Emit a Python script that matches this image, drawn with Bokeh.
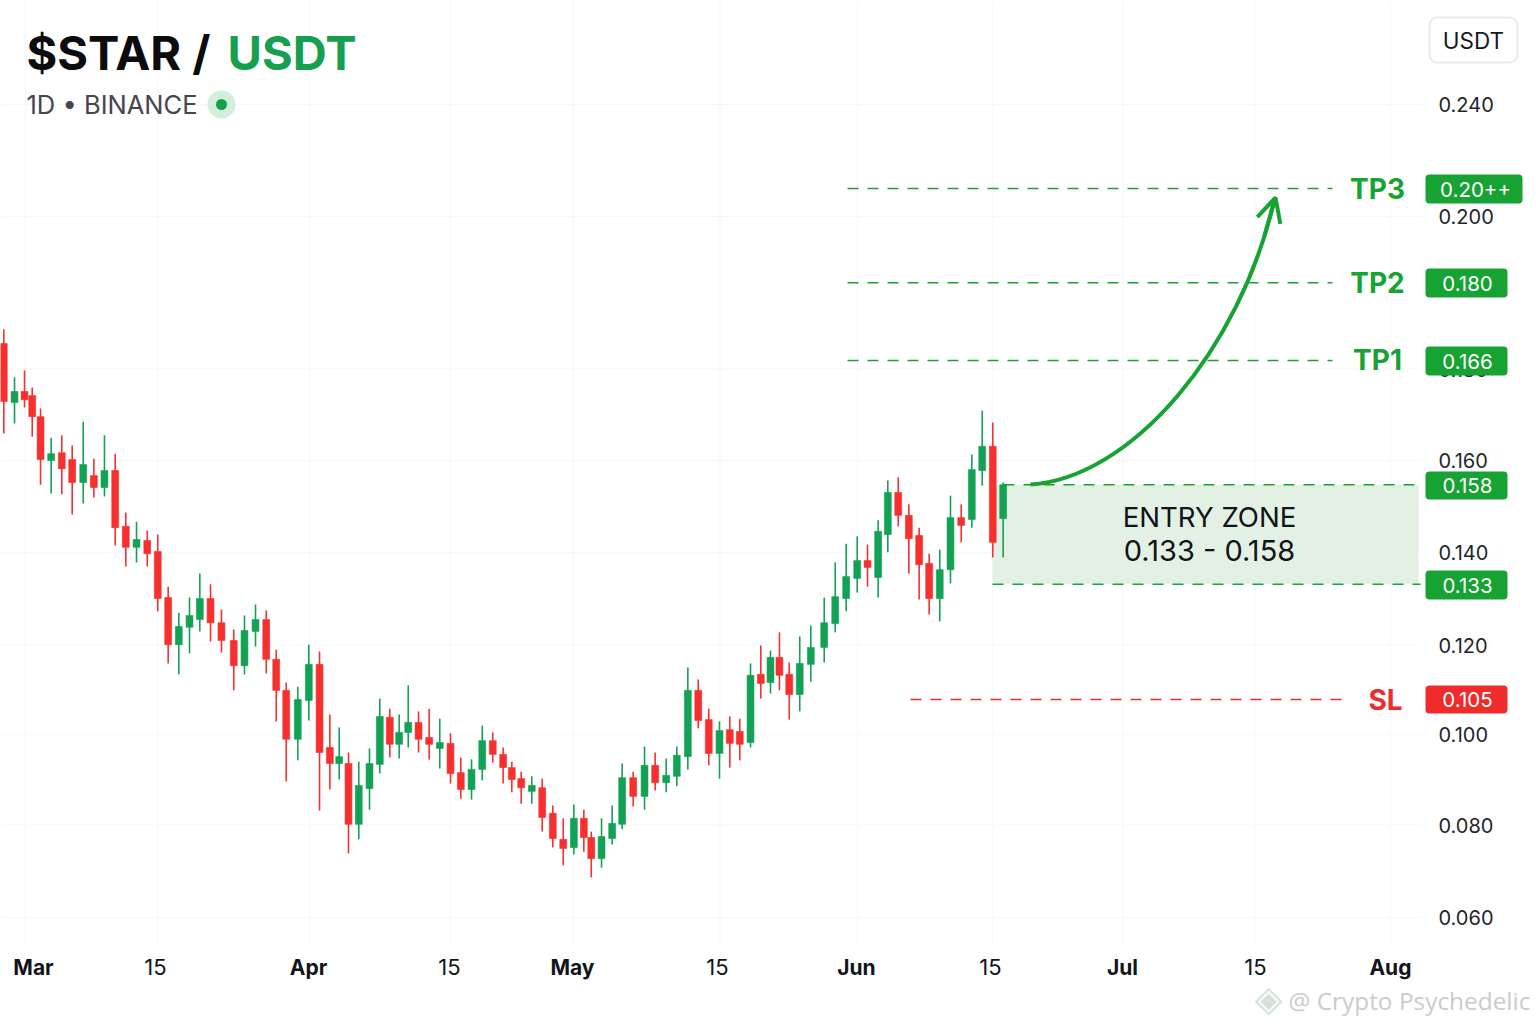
from bokeh.plotting import figure
from bokeh.models import ColumnDataSource, FixedTicker, LinearAxis, Range1d, Arrow, OpenHead
from bokeh.core.properties import value
from bokeh.embed import file_html
from bokeh.resources import INLINE

# ---- candle data; the picture's candles are not perfectly evenly spaced ----
session = [0,1.03,1.99,2.73,3.53,4.55,5.57,6.57,7.63,8.65,9.67,10.70,11.72,12.75,13.78,14.79,15.79,16.81,17.84,18.83,19.86,20.91,22.09,23.12,24.18,
           25.21,26.17,27.13,28.24,29.30,30.33,31.32,32.22,33.11,34.10,35.13,36.12,37.08,37.98,38.85,39.84,40.86,41.88,42.91,43.90,44.93,45.96,46.97,47.97,
           48.80,49.70,50.72,51.72,52.74,53.74,54.76,55.72,56.43,57.42,58.44,59.40,60.46,61.55,62.57,63.63,64.65,65.71,66.71,67.72,68.75,69.74,70.70,71.73,
           72.72,73.65,74.51,75.45,76.46,77.52,78.81,79.87,80.92,81.98,82.97,83.99,84.92,85.92,86.94,87.93,88.89,89.91,90.94,91.97,92.99,93.99,95.00,96.00]
high = [0.1887,0.1782,0.1797,0.1760,0.1714,0.1650,0.1655,0.1633,0.1685,0.1604,0.1655,0.1615,0.1486,0.1466,0.1447,0.1438,0.1324,0.1267,0.1300,0.1353,0.1329,0.1274,0.1230,0.1261,0.1285,0.1272,0.1186,0.1114,0.1105,0.1197,0.1182,0.1044,0.1016,0.0961,0.0941,0.0970,0.1079,0.1057,0.1044,0.1108,0.1051,0.1057,0.1035,0.1003,0.0950,0.0946,0.1020,0.1005,0.0972,0.0941,0.0919,0.0909,0.0904,0.0845,0.0817,0.0847,0.0836,0.0788,0.0817,0.0845,0.0937,0.0919,0.0974,0.0961,0.0948,0.0974,0.1147,0.1121,0.1057,0.1029,0.1040,0.1035,0.1156,0.1195,0.1184,0.1224,0.1158,0.1215,0.1239,0.1300,0.1377,0.1418,0.1434,0.1416,0.1469,0.1556,0.1563,0.1504,0.1453,0.1396,0.1405,0.1523,0.1504,0.1613,0.1709,0.1683,0.1552]
open_ = [0.1856,0.1727,0.1751,0.1742,0.1696,0.1600,0.1617,0.1602,0.1552,0.1567,0.1541,0.1578,0.1456,0.1410,0.1425,0.1401,0.1300,0.1197,0.1235,0.1252,0.1298,0.1245,0.1206,0.1151,0.1226,0.1252,0.1165,0.1097,0.0990,0.1075,0.1154,0.0972,0.0937,0.0937,0.0804,0.0882,0.0935,0.1038,0.0979,0.1005,0.1027,0.0994,0.0970,0.0981,0.0917,0.0880,0.0924,0.0987,0.0957,0.0928,0.0904,0.0876,0.0884,0.0828,0.0771,0.0753,0.0817,0.0775,0.0729,0.0773,0.0804,0.0906,0.0865,0.0933,0.0895,0.0909,0.0952,0.1097,0.1033,0.0959,0.1011,0.1007,0.0983,0.1132,0.1114,0.1169,0.1132,0.1088,0.1154,0.1191,0.1243,0.1298,0.1342,0.1381,0.1344,0.1438,0.1530,0.1480,0.1436,0.1375,0.1298,0.1361,0.1475,0.1471,0.1578,0.1631,0.1473]
close = [0.1729,0.1751,0.1733,0.1696,0.1602,0.1615,0.1582,0.1552,0.1591,0.1541,0.1578,0.1453,0.1410,0.1427,0.1396,0.1298,0.1197,0.1237,0.1261,0.1298,0.1245,0.1206,0.1151,0.1228,0.1252,0.1165,0.1097,0.0990,0.1077,0.1154,0.0961,0.0937,0.0952,0.0804,0.0889,0.0937,0.1040,0.0979,0.1005,0.1027,0.0990,0.0979,0.0983,0.0915,0.0880,0.0924,0.0987,0.0957,0.0928,0.0902,0.0884,0.0889,0.0819,0.0773,0.0751,0.0817,0.0775,0.0729,0.0777,0.0806,0.0906,0.0865,0.0933,0.0895,0.0911,0.0955,0.1097,0.1031,0.0959,0.1009,0.0981,0.0979,0.1130,0.1112,0.1169,0.1130,0.1088,0.1156,0.1191,0.1245,0.1302,0.1346,0.1381,0.1366,0.1445,0.1530,0.1480,0.1429,0.1372,0.1298,0.1361,0.1475,0.1458,0.1580,0.1631,0.1421,0.1547]
low = [0.1659,0.1681,0.1716,0.1652,0.1547,0.1528,0.1526,0.1482,0.1506,0.1519,0.1521,0.1414,0.1368,0.1377,0.1368,0.1270,0.1156,0.1132,0.1178,0.1226,0.1204,0.1180,0.1097,0.1132,0.1193,0.1134,0.1029,0.0898,0.0944,0.1031,0.0834,0.0880,0.0902,0.0740,0.0771,0.0836,0.0915,0.0950,0.0948,0.0972,0.0961,0.0946,0.0926,0.0893,0.0860,0.0858,0.0900,0.0939,0.0893,0.0874,0.0849,0.0849,0.0788,0.0753,0.0714,0.0738,0.0744,0.0688,0.0709,0.0760,0.0793,0.0843,0.0836,0.0878,0.0874,0.0887,0.0924,0.1014,0.0933,0.0904,0.0928,0.0944,0.0972,0.1079,0.1090,0.1097,0.1033,0.1051,0.1116,0.1158,0.1224,0.1270,0.1311,0.1324,0.1300,0.1399,0.1456,0.1353,0.1296,0.1263,0.1248,0.1331,0.1421,0.1453,0.1545,0.1388,0.1388]

# ---- axes ----
month_labels = ["Mar", "Apr", "May", "Jun", "Jul", "Aug"]
month_pos = [2.85, 29.27, 54.63, 81.91, 107.46, 133.2]
mid_labels = ["15", "15", "15", "15", "15"]
mid_pos = [14.57, 42.81, 68.56, 94.78, 120.24]
vgrid_pos = [2.07, 14.8, 29.4, 42.9, 54.7, 68.8, 82.0, 95.0, 107.5, 120.2, 133.2]
price_labels = ["0.060", "0.080", "0.100", "0.120", "0.140", "0.160", "0.180", "0.200", "0.240"]
price_pos = [0.06, 0.0802, 0.10, 0.1196, 0.1398, 0.16, 0.18, 0.2134, 0.2379]

# ---- levels ----
level_names = ["TP3", "TP2", "TP1", "SL"]
level_pos = [0.2195, 0.1989, 0.1819, 0.1077]
level_labels = ["0.20++", "0.180", "0.166", "0.105"]
entry_labels = ["0.158", "0.133"]
entry_pos = [0.1547, 0.1329]

GREEN = "#12a155"
RED = "#f5302e"
LEVEL = "#16a334"
LRED = "#f02b2b"


def X(px):
    return (px - 3.3) / 10.41


def Y(py):
    return 0.06 + (917 - py) / 4570


p = figure(width=1536, height=1024, output_backend="svg", toolbar_location=None,
           x_range=Range1d(X(0), X(1536)), y_range=Range1d(Y(1024), Y(0)),
           x_axis_location=None, y_axis_location=None,
           min_border_left=0, min_border_top=0, min_border_right=0, min_border_bottom=0,
           outline_line_color=None, background_fill_color="#ffffff", border_fill_color="#ffffff")
p.grid.visible = False

# grid
p.segment(x0=vgrid_pos, y0=[Y(0)] * len(vgrid_pos), x1=vgrid_pos, y1=[Y(945)] * len(vgrid_pos),
          line_color="#f6f7f7", line_width=1, level="underlay")
p.segment(x0=[X(0)] * len(price_pos), y0=price_pos, x1=[X(1420)] * len(price_pos), y1=price_pos,
          line_color="#f6f7f7", line_width=1, level="underlay")


# axes
def style(ax, size, bold=False, standoff=12):
    ax.axis_line_color = None
    ax.major_tick_line_color = None
    ax.minor_tick_line_color = None
    ax.major_tick_in = 0
    ax.major_tick_out = 0
    ax.major_label_text_font = "Inter"
    ax.major_label_text_font_size = f"{size}px"
    ax.major_label_text_color = "#111418"
    ax.major_label_standoff = standoff
    if bold:
        ax.major_label_text_font_style = "bold"


yax = LinearAxis(ticker=FixedTicker(ticks=price_pos),
                 major_label_overrides=dict(zip(price_pos, price_labels)))
style(yax, 20, standoff=-98)
yax.major_label_text_color = "#22262a"
p.add_layout(yax, "right")

ax_m = LinearAxis(ticker=FixedTicker(ticks=month_pos),
                  major_label_overrides=dict(zip(month_pos, month_labels)))
style(ax_m, 21, bold=True, standoff=-70)
p.add_layout(ax_m, "below")
ax_d = LinearAxis(ticker=FixedTicker(ticks=mid_pos),
                  major_label_overrides=dict(zip(mid_pos, mid_labels)))
style(ax_d, 22, standoff=-66)
p.add_layout(ax_d, "below")

# entry zone
p.quad(left=[X(992)], right=[X(1418)], top=[entry_pos[0]], bottom=[entry_pos[1]],
       fill_color="#e2f1e4", line_color=None)

# candles
idx = list(range(len(high)))
colors = [GREEN if close[i] >= open_[i] else RED for i in idx]
src = ColumnDataSource(dict(x=session, high=high, low=low,
                            top=[max(open_[i], close[i]) for i in idx],
                            bottom=[min(open_[i], close[i]) for i in idx],
                            color=colors))
p.segment("x", "high", "x", "low", source=src, line_color="color", line_width=1.6)
p.vbar("x", 0.66, "top", "bottom", source=src, fill_color="color", line_color="color", line_width=0.6)

# level lines
DASH = "11 9"
for y, x0, x1, c in [(level_pos[0], 847, 1332, LEVEL), (level_pos[1], 847, 1332, LEVEL),
                     (level_pos[2], 847, 1332, LEVEL), (level_pos[3], 910, 1350, LRED),
                     (entry_pos[0], 1003, 1418, LEVEL), (entry_pos[1], 992, 1420, LEVEL)]:
    p.line([X(x0), X(x1)], [y, y], line_color=c, line_width=1.5, line_dash=DASH)

# curved arrow
p.bezier(x0=[X(1030)], y0=[Y(484)], x1=[X(1274)], y1=[Y(198)],
         cx0=[X(1130)], cy0=[Y(478)], cx1=[X(1240)], cy1=[Y(350)],
         line_color=LEVEL, line_width=4)
p.add_layout(Arrow(end=OpenHead(size=24, line_color=LEVEL, line_width=4),
                   x_start=X(1264), y_start=Y(235), x_end=X(1275), y_end=Y(197),
                   line_color=LEVEL, line_width=4))

# level names
for name, y, cx in zip(level_names, level_pos, [1377, 1377, 1377, 1385]):
    p.text([X(cx)], [y], text=[name], text_color=LRED if name == "SL" else LEVEL,
           text_font=value("Inter"), text_font_style="bold", text_font_size="28px",
           text_align="center", text_baseline="middle")

# entry text
p.text([X(1209)], [Y(516)], text=["ENTRY ZONE"], text_font=value("Inter"), text_font_size="27.6px",
       text_color="#111418", text_align="center", text_baseline="middle")
p.text([X(1209)], [Y(550)], text=["0.133 - 0.158"], text_font=value("Inter"), text_font_size="29px",
       text_color="#111418", text_align="center", text_baseline="middle")

# title
p.text([X(26)], [Y(52)], text=["$STAR /"], text_font=value("Inter"), text_font_style="bold",
       text_font_size="47px", text_color="#0c0c0e", text_baseline="middle")
p.text([X(227)], [Y(52)], text=["USDT"], text_font=value("Inter"), text_font_style="bold",
       text_font_size="47px", text_color="#15a050", text_baseline="middle")
p.text([X(26)], [Y(104)], text=["1D • BINANCE"], text_font=value("Inter"),
       text_font_size="25.5px", text_color="#45454d", text_baseline="middle")
p.scatter([X(221)], [Y(104)], size=28, fill_color="#d3efdc", line_color=None)
p.scatter([X(221)], [Y(104)], size=11, fill_color="#12a150", line_color=None)


def badge(text, left, right, top, bottom, tx, color):
    p.quad(left=[X(left)], right=[X(right)], top=[Y(top)], bottom=[Y(bottom)],
           fill_color=color, line_color=None, border_radius=4, level="annotation")
    p.text([X(tx)], [Y((top + bottom) / 2)], text=[text], text_color="#ffffff",
           text_font=value("Inter"), text_font_size="20.5px", text_align="center",
           text_baseline="middle", level="annotation")


badge(level_labels[0], 1425, 1522, 174, 203, 1475, LEVEL)
badge(level_labels[1], 1425, 1507, 268, 297, 1467, LEVEL)
badge(level_labels[2], 1425, 1507, 346, 375, 1467, LEVEL)
badge(entry_labels[0], 1425, 1507, 471, 499, 1467, LEVEL)
badge(entry_labels[1], 1425, 1507, 570, 599, 1467, LEVEL)
badge(level_labels[3], 1425, 1507, 685, 713, 1467, LRED)

# unit box
p.quad(left=[X(1429)], right=[X(1517)], top=[Y(17)], bottom=[Y(62)], fill_color="#ffffff",
       line_color="#e8ebea", line_width=2, border_radius=8)
p.text([X(1473)], [Y(40)], text=["USDT"], text_color="#15181c", text_font=value("Inter"),
       text_font_size="22.5px", text_align="center", text_baseline="middle")

# watermark
p.text([X(1268)], [Y(998)], text=["◈"], text_color="#d5e2da", text_font=value("DejaVu Sans"),
       text_font_size="36px", text_align="center", text_baseline="middle")
p.text([X(1288)], [Y(1000)], text=["@ Crypto Psychedelic"], text_color="#c9cccb",
       text_font=value("Open Sans"), text_font_size="24.4px", text_baseline="middle")

open("out.html", "w").write(file_html(p, INLINE))
